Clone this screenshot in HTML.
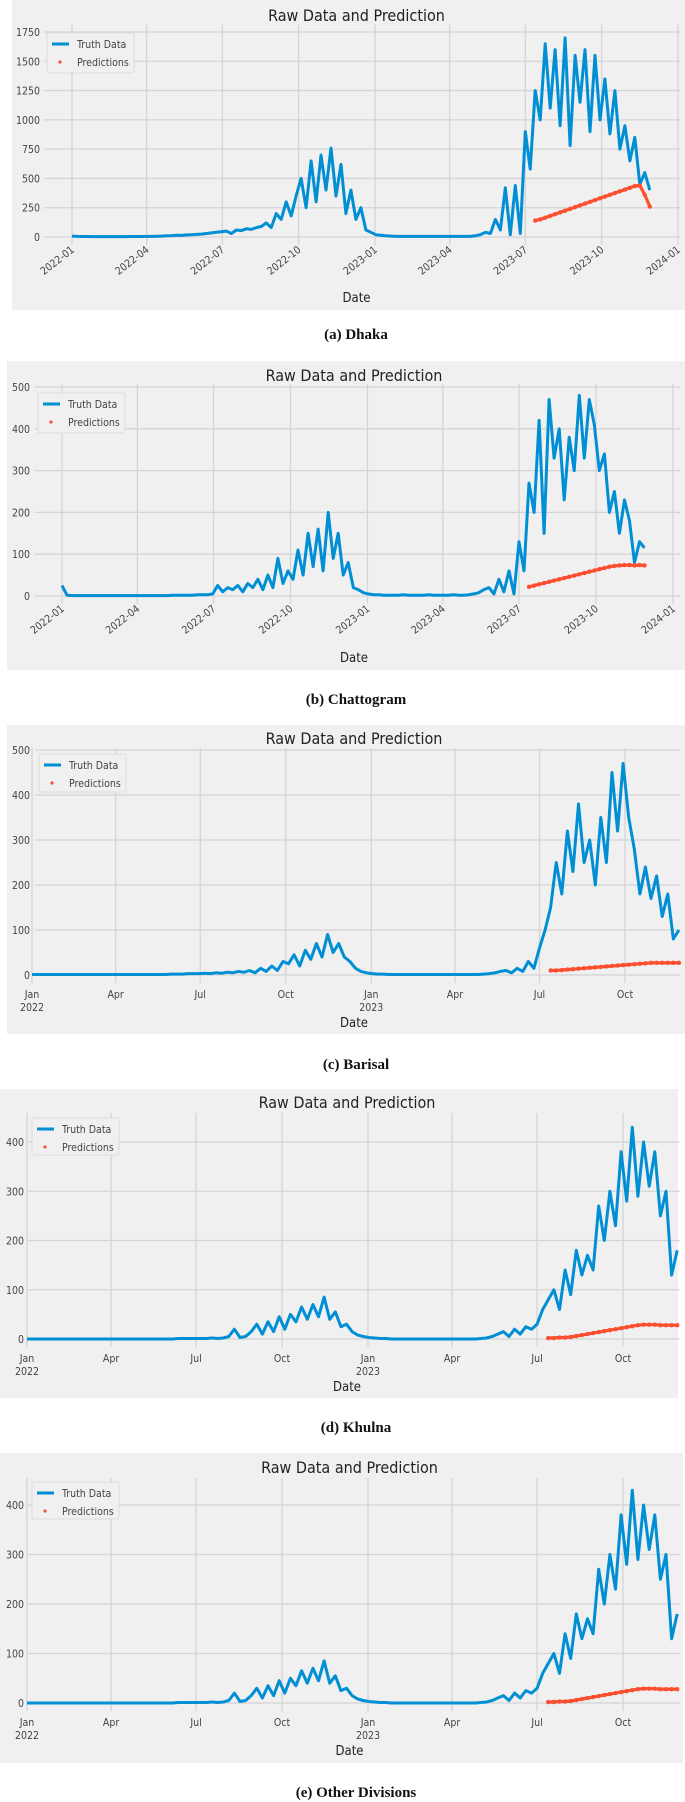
<!DOCTYPE html>
<html><head><meta charset="utf-8">
<style>
html,body{margin:0;padding:0;background:#fff;}
body{width:685px;height:1802px;overflow:hidden;}
svg{display:block;}
.tk{font-family:"DejaVu Sans Condensed","Liberation Sans",sans-serif;font-size:10.5px;fill:#444;}
.tt{font-family:"DejaVu Sans Condensed","Liberation Sans",sans-serif;font-size:16px;fill:#222;}
.cap{font-family:"Liberation Serif",serif;font-size:15px;font-weight:bold;fill:#111;}
</style></head>
<body>
<svg id="fig" width="685" height="1802" viewBox="0 0 685 1802" xmlns="http://www.w3.org/2000/svg"></svg>
<script>
// ---- data (6-day steps starting 2022-01-01) ----
const dhakaTruth = [8,5,4,4,3,3,3,3,3,3,3,3,4,4,4,5,5,6,8,10,
 12,15,14,18,20,22,25,30,35,40,
 45,50,30,60,55,70,65,80,90,
 120,80,200,150,300,180,350,
 500,250,650,300,700,
 400,760,350,620,200,
 400,150,250,60,40,
 20,15,10,8,
 5,5,5,5,5,5,5,5,5,5,5,5,5,5,5,5,
 10,20,40,30,
 150,60,420,20,440,30,
 900,580,1250,
 1000,1650,1100,1600,
 950,1700,780,1550,
 1150,1600,900,1550,
 1000,1350,880,1250,
 750,950,650,850,
 450,550,400];
const dhakaPred = [140,150,165,180,195,210,225,240,255,270,285,300,315,330,345,360,375,390,405,420,435,440,360,260];

const chattoTruth = [25,2,1,1,1,1,1,1,1,1,1,1,1,1,1,1,1,1,1,1,
 1,1,2,2,2,2,2,3,3,3,
 5,25,10,20,15,25,10,30,20,
 40,15,50,20,90,30,60,
 40,110,50,150,70,
 160,60,200,90,150,
 50,80,20,15,8,
 5,3,3,2,
 2,2,2,3,2,2,2,2,3,2,2,2,2,3,2,2,
 3,5,8,15,
 20,5,40,10,60,5,
 130,60,270,
 200,420,150,470,
 330,400,230,380,
 300,480,330,470,
 410,300,340,200,
 250,150,230,180,
 80,130,115];
const chattoPred = [22,25,28,31,34,37,40,43,46,49,52,55,58,61,64,67,70,72,73,74,74,73,74,73];

const barisalTruth = [1,1,1,1,1,1,1,1,1,1,1,1,1,1,1,1,1,1,1,1,
 1,1,1,1,1,2,2,2,3,3,
 3,4,3,5,4,6,5,8,6,
 10,5,15,8,20,10,30,
 25,45,20,55,35,
 70,40,90,50,70,
 40,30,15,8,5,
 3,2,2,1,
 1,1,1,1,1,1,1,1,1,1,1,1,1,1,1,1,
 2,3,5,8,
 10,5,15,8,30,15,
 60,100,150,
 250,180,320,230,
 380,250,300,200,
 350,250,450,320,
 470,350,280,180,
 240,170,220,130,
 180,80,100];
const barisalPred = [10,10,11,12,13,14,15,16,17,18,19,20,21,22,23,24,25,26,27,27,27,27,27,27];

const khulnaTruth = [0,0,0,0,0,0,0,0,0,0,0,0,0,0,0,0,0,0,0,0,
 0,0,0,0,0,0,0,1,1,1,
 1,1,1,2,1,2,5,20,3,
 5,15,30,10,35,15,45,
 20,50,35,65,40,
 70,45,85,40,55,
 25,30,15,8,5,
 3,2,1,1,
 0,0,0,0,0,0,0,0,0,0,0,0,0,0,0,0,
 1,2,5,10,
 15,5,20,10,25,20,
 30,60,80,
 100,60,140,90,
 180,130,170,140,
 270,200,300,230,
 380,280,430,290,
 400,310,380,250,
 300,130,180];
const khulnaPred = [2,2,3,3,4,6,8,10,12,14,16,18,20,22,24,26,28,29,29,29,28,28,28,28];
const otherTruth = khulnaTruth.slice();
const otherPred = khulnaPred.slice();

const truthStep = 6, predStart = 558, predStep = 6;
const isoTicks = ["2022-01","2022-04","2022-07","2022-10","2023-01","2023-04","2023-07","2023-10","2024-01"];
const isoTickDays = [0,90,181,273,365,455,546,638,730];
const monTicks = ["Jan","Apr","Jul","Oct","Jan","Apr","Jul","Oct"];
const monYears = ["2022","","","","2023","","",""];
const monTickDays = [0,90,181,273,365,455,546,638];
const yTicksBig = [0,250,500,750,1000,1250,1500,1750];
const yTicks500 = [0,100,200,300,400,500];
const yTicks400 = [0,100,200,300,400];

const NS = "http://www.w3.org/2000/svg";
const fig = document.getElementById('fig');
function mk(tag, attrs, parent){
  const e = document.createElementNS(NS, tag);
  for (const k in attrs) e.setAttribute(k, attrs[k]);
  (parent||fig).appendChild(e);
  return e;
}

const panels = [
 {id:'dhaka', cap:'(a) Dhaka', truth:dhakaTruth, pred:dhakaPred, box:[12,0,673,310], x0:72, xr:678, dref:730, y0:237, ytop:32, vtop:1750, yt:yTicksBig, iso:true, title:15, date:297, capY:334, leg:[47,33,87,40], pl:44, pt:24, ylab:40},
 {id:'chattogram', cap:'(b) Chattogram', truth:chattoTruth, pred:chattoPred, box:[7,361,678,309], x0:62, xr:673, dref:730, y0:596, ytop:387, vtop:500, yt:yTicks500, iso:true, title:375, date:657, capY:699, leg:[38,393,87,40], pl:35, pt:384, ylab:30},
 {id:'barisal', cap:'(c) Barisal', truth:barisalTruth, pred:barisalPred, box:[7,725,678,309], x0:32, xr:625, dref:638, y0:975, ytop:750, vtop:500, yt:yTicks500, iso:false, title:738, date:1022, capY:1064, leg:[39,754,87,38], pl:35, pt:748, ylab:30},
 {id:'khulna', cap:'(d) Khulna', truth:khulnaTruth, pred:khulnaPred, box:[0,1089,678,309], x0:27, xr:623, dref:638, y0:1339, ytop:1142, vtop:400, yt:yTicks400, iso:false, title:1102, date:1386, capY:1427, leg:[32,1118,87,37], pl:28, pt:1113, ylab:24},
 {id:'other-divisions', cap:'(e) Other Divisions', truth:otherTruth, pred:otherPred, box:[0,1453,683,310], x0:27, xr:623, dref:638, y0:1703, ytop:1505, vtop:400, yt:yTicks400, iso:false, title:1467, date:1750, capY:1792, leg:[32,1482,87,37], pl:28, pt:1478, ylab:24}
];

panels.forEach(p => {
  const g = mk('g', {});
  
  
  const xs = d => p.x0 + d * (p.xr - p.x0) / p.dref;
  const ys = v => p.y0 - v * (p.y0 - p.ytop) / p.vtop;
  const right = 680, bottom = p.y0 + 8;
  const bg = mk('rect', {x:p.box[0], y:p.box[1], width:p.box[2], height:p.box[3], fill:'#f0f0f0'}, g);
  
  
  p.yt.forEach(v => {
    const gl = mk('line', {x1:p.pl, x2:right, y1:ys(v), y2:ys(v), stroke:'#d4d4d4', 'stroke-width':1.3}, g);
    
    
    const t = mk('text', {x:p.ylab, y:ys(v)+4, 'text-anchor':'end', class:'tk'}, g);
    t.textContent = v;
    
    
  });
  const days = p.iso ? isoTickDays : monTickDays;
  days.forEach((d, i) => {
    const gl = mk('line', {x1:xs(d), x2:xs(d), y1:p.pt, y2:bottom, stroke:'#d4d4d4', 'stroke-width':1.3}, g);
    
    
    if (p.iso) {
      const t = mk('text', {x:xs(d)+3, y:p.y0+14, 'text-anchor':'end', class:'tk', transform:`rotate(-38 ${xs(d)+3} ${p.y0+14})`}, g);
      t.textContent = isoTicks[i];
      
      
    } else {
      const t = mk('text', {x:xs(d), y:p.y0+23, 'text-anchor':'middle', class:'tk'}, g);
      t.textContent = monTicks[i];
      
      
      if (monYears[i]) {
        const t2 = mk('text', {x:xs(d), y:p.y0+36, 'text-anchor':'middle', class:'tk'}, g);
        t2.textContent = monYears[i];
        
        
      }
    }
  });
  const pts = p.truth.map((v, i) => xs(i*truthStep).toFixed(1) + ',' + ys(v).toFixed(1)).join(' ');
  const ln = mk('polyline', {points:pts, fill:'none', stroke:'#008fd5', 'stroke-width':3, 'stroke-linejoin':'round'}, g);
  
  
  const pl = mk('polyline', {points:p.pred.map((v,i)=>xs(predStart+i*predStep).toFixed(1)+','+ys(v).toFixed(1)).join(' '), fill:'none', stroke:'#fc4f30', 'stroke-width':3.2}, g);
  
  
  p.pred.forEach((v, i) => {
    const c = mk('circle', {cx:xs(predStart + i*predStep), cy:ys(v), r:2.2, fill:'#fc4f30'}, g);
    
    
  });
  const tt = mk('text', {x:(p.box[0]*2+p.box[2])/2 + 8, y:p.title+6, 'text-anchor':'middle', class:'tt'}, g);
  tt.textContent = 'Raw Data and Prediction';
  
  
  const dt = mk('text', {x:(p.box[0]*2+p.box[2])/2 + 8, y:p.date+5, 'text-anchor':'middle', class:'tt'}, g);
  dt.style.fontSize = '13px';
  dt.textContent = 'Date';
  
  
  const [lx, ly, lw, lh] = p.leg;
  const lg = mk('g', {}, g);
  
  
  mk('rect', {x:lx, y:ly, width:lw, height:lh, fill:'#f0f0f0', stroke:'#dcdcdc', rx:2}, lg);
  const l1 = mk('line', {x1:lx+5, x2:lx+22, y1:ly+11, y2:ly+11, stroke:'#008fd5', 'stroke-width':3}, lg);
  
  
  const t1 = mk('text', {x:lx+30, y:ly+15, class:'tk'}, lg);
  t1.textContent = 'Truth Data';
  
  
  const c2 = mk('circle', {cx:lx+13, cy:ly+29, r:1.6, fill:'#fc4f30'}, lg);
  
  
  const t2 = mk('text', {x:lx+30, y:ly+33, class:'tk'}, lg);
  t2.textContent = 'Predictions';
  
  
  const cp = mk('text', {x:356, y:p.capY+5, 'text-anchor':'middle', class:'cap'});
  cp.textContent = p.cap;
  
  
});
</script>
</body></html>
